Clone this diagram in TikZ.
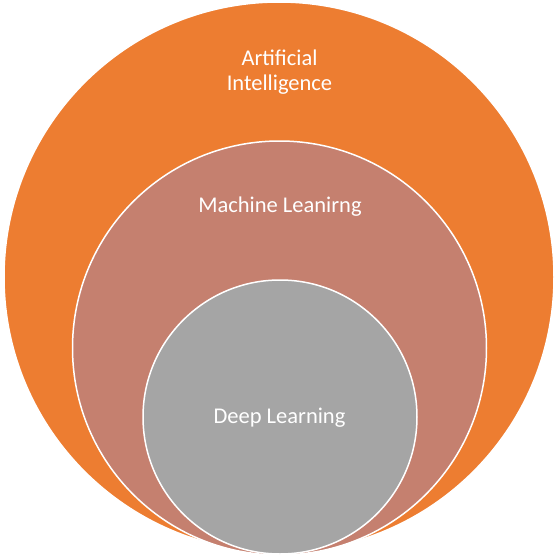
\documentclass[tikz,border=0pt]{standalone}
\usepackage{fontspec}
\setmainfont{Carlito}
\usepackage{xcolor}
\usepackage{tikz}
\usetikzlibrary{positioning}

\definecolor{aiorange}{HTML}{ED7D31}
\definecolor{mlrose}{HTML}{C5806F}
\definecolor{dlgray}{HTML}{A5A5A5}

\tikzset{
    ringlabel/.style={white, align=center, inner sep=0pt,
        font=\fontsize{22.5}{25}\selectfont}
}

\begin{document}
\begin{tikzpicture}[x=1pt, y=-1pt]
        \useasboundingbox (0,0) rectangle (558,557);
        \foreach \cx/\cy/\r/\col in {279/277/275/aiorange, 279.5/348/207/mlrose, 280/417/137/dlgray} {
            \filldraw[fill=\col, draw=white, line width=1.5pt] (\cx,\cy) circle (\r pt);
        }
        \node[ringlabel] (ai) at (279.5, 72)  {Artificial\\Intelligence};
        \node[ringlabel] (ml) at (280, 207)   {Machine Leanirng};
        \node[ringlabel] (dl) at (279.5, 418) {Deep Learning};
    \end{tikzpicture}
\end{document}
